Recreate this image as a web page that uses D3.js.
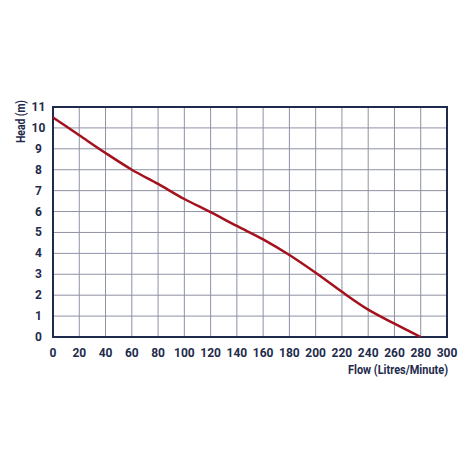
<!DOCTYPE html>
<html>
<head>
<meta charset="utf-8">
<script src="https://cdn.jsdelivr.net/npm/d3@7"></script>
<style>
  body { margin: 0; background: #fff; }
  text { font-family: "Roboto", sans-serif; font-weight: 700; fill: #1f2b4c; }
</style>
</head>
<body>
<script>
// pump curve
var flow = [0, 20, 40, 60, 80, 100, 120, 140, 160, 180, 200, 220, 240, 260, 280];
var head = [10.5, 9.65, 8.8, 8.0, 7.32, 6.6, 5.97, 5.31, 4.67, 3.92, 3.07, 2.16, 1.31, 0.64, 0];
var xTicks = d3.range(0, 301, 20);
var yTicks = d3.range(0, 12, 1);

var width = 474, height = 474;
var margin = {top: 107, right: 27, bottom: 137, left: 53};

var svg = d3.select('body')
    .append('svg')
    .attr('width', width)
    .attr('height', height);

var x = d3.scaleLinear()
    .domain([0, 300])
    .range([margin.left, width - margin.right]);

var y = d3.scaleLinear()
    .domain([0, 11])
    .range([height - margin.bottom, margin.top]);

// grid
svg.append('g')
    .selectAll('line')
    .data(xTicks.slice(1, -1))
    .enter()
    .append('line')
    .attr('x1', function(d) { return x(d); })
    .attr('x2', function(d) { return x(d); })
    .attr('y1', y(0))
    .attr('y2', y(11))
    .attr('stroke', '#8e92a4')
    .attr('stroke-width', 1);

svg.append('g')
    .selectAll('line')
    .data(yTicks.slice(1, -1))
    .enter()
    .append('line')
    .attr('x1', x(0))
    .attr('x2', x(300))
    .attr('y1', function(d) { return y(d); })
    .attr('y2', function(d) { return y(d); })
    .attr('stroke', '#8e92a4')
    .attr('stroke-width', 1);

// frame
svg.append('rect')
    .attr('x', x(0))
    .attr('y', y(11))
    .attr('width', x(300) - x(0))
    .attr('height', y(0) - y(11))
    .attr('fill', 'none')
    .attr('stroke', '#1f2b4c')
    .attr('stroke-width', 2);

// curve
var line = d3.line()
    .x(function(d, i) { return x(flow[i]); })
    .y(function(d) { return y(d); })
    .curve(d3.curveMonotoneX);

svg.append('path')
    .datum(head)
    .attr('d', line)
    .attr('fill', 'none')
    .attr('stroke', '#a3121c')
    .attr('stroke-width', 2.5);

// tick labels
svg.append('g')
    .selectAll('text')
    .data(xTicks)
    .enter()
    .append('text')
    .attr('x', function(d) { return x(d); })
    .attr('y', y(0) + 20)
    .attr('text-anchor', 'middle')
    .style('font-size', '12px')
    .text(function(d) { return d; });

svg.append('g')
    .selectAll('text')
    .data(yTicks)
    .enter()
    .append('text')
    .attr('x', 38.5)
    .attr('y', function(d) { return y(d) + 4; })
    .attr('text-anchor', 'middle')
    .style('font-size', '12px')
    .text(function(d) { return d; });

// axis titles
svg.append('text')
    .attr('x', x(300) + 1)
    .attr('y', y(0) + 37)
    .attr('text-anchor', 'end')
    .attr('textLength', 100)
    .attr('lengthAdjust', 'spacingAndGlyphs')
    .style('font-size', '13px')
    .text('Flow (Litres/Minute)');

svg.append('text')
    .attr('transform', 'translate(25,100) rotate(-90)')
    .attr('text-anchor', 'end')
    .attr('textLength', 43)
    .attr('lengthAdjust', 'spacingAndGlyphs')
    .style('font-size', '13px')
    .text('Head (m)');
</script>
</body>
</html>
